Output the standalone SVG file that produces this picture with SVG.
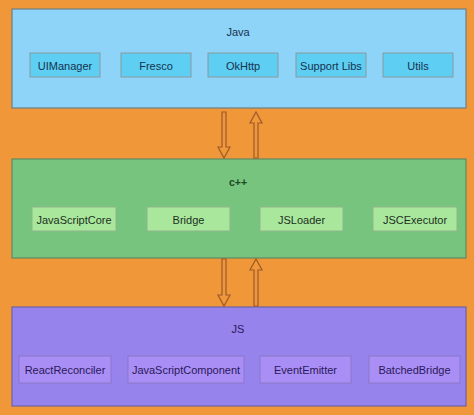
<svg xmlns="http://www.w3.org/2000/svg" width="474" height="415" viewBox="0 0 474 415">
<defs>
<style>
.layer{stroke:#6f7f80;stroke-width:1.2}
.item{stroke:#8a9aa0;stroke-width:1}
text{font-family:"Liberation Sans",Arial,sans-serif;font-size:11px;text-anchor:middle;dominant-baseline:central}
.java .layer{fill:#8ed3f8}
.java .item{fill:#5ecff2}
.java text{fill:#17324f}
.cpp .layer{fill:#77c47f;stroke:#5f8a62}
.cpp .item{fill:#a9e89c;stroke:#8fb48c}
.cpp text{fill:#1e2f1f}
.cpp .title{fill:#1d4a22;font-weight:bold;font-size:10.5px}
.js .layer{fill:#9683ec;stroke:#6e63a8}
.js .item{fill:#a98ef6;stroke:#8a78c8}
.js text{fill:#2a1958}
.arrow{fill:#f0973a;stroke:#9a5a2a;stroke-width:1.2;stroke-linejoin:miter}
</style>
</defs>
<rect x="0" y="0" width="474" height="415" fill="#f0973a"/>

<g id="java" class="java">
<rect class="layer" x="12" y="9" width="454" height="99"/>
<text x="238" y="31.5">Java</text>
<g id="uimanager"><rect class="item" x="30" y="53" width="70" height="24"/><text x="65" y="65.5">UIManager</text></g>
<g id="fresco"><rect class="item" x="121" y="53" width="70" height="24"/><text x="156" y="65.5">Fresco</text></g>
<g id="okhttp"><rect class="item" x="208" y="53" width="70" height="24"/><text x="243" y="65.5">OkHttp</text></g>
<g id="supportlibs"><rect class="item" x="296" y="53" width="70" height="24"/><text x="331" y="65.5">Support Libs</text></g>
<g id="utils"><rect class="item" x="383" y="53" width="70" height="24"/><text x="418" y="65.5">Utils</text></g>
</g>

<g id="cpp" class="cpp">
<rect class="layer" x="12" y="159" width="454" height="99"/>
<text class="title" x="238" y="182">c++</text>
<g id="javascriptcore"><rect class="item" x="32" y="207" width="84" height="24"/><text x="74" y="219.5">JavaScriptCore</text></g>
<g id="bridge"><rect class="item" x="147" y="207" width="83" height="24"/><text x="188.5" y="219.5">Bridge</text></g>
<g id="jsloader"><rect class="item" x="260" y="207" width="83" height="24"/><text x="301.5" y="219.5">JSLoader</text></g>
<g id="jscexecutor"><rect class="item" x="373" y="207" width="84" height="24"/><text x="415" y="219.5">JSCExecutor</text></g>
</g>

<g id="js" class="js">
<rect class="layer" x="12" y="307" width="454" height="99"/>
<text x="238" y="329">JS</text>
<g id="reactreconciler"><rect class="item" x="19" y="356" width="92" height="27"/><text x="65" y="370">ReactReconciler</text></g>
<g id="javascriptcomponent"><rect class="item" x="128" y="356" width="116" height="27"/><text x="186" y="370">JavaScriptComponent</text></g>
<g id="eventemitter"><rect class="item" x="260" y="356" width="91" height="27"/><text x="305.5" y="370">EventEmitter</text></g>
<g id="batchedbridge"><rect class="item" x="369" y="356" width="91" height="27"/><text x="414.5" y="370">BatchedBridge</text></g>
</g>

<g id="connectors">
<path class="arrow" d="M222,112 H226 V147 H230 L224,158 L218,147 H222 Z"/>
<path class="arrow" d="M254,158 V123 H250 L256,112 L262,123 H258 V158 Z"/>
<path class="arrow" d="M222,259 H226 V295 H230 L224,306 L218,295 H222 Z"/>
<path class="arrow" d="M254,306 V270 H250 L256,259 L262,270 H258 V306 Z"/>
</g>
</svg>
